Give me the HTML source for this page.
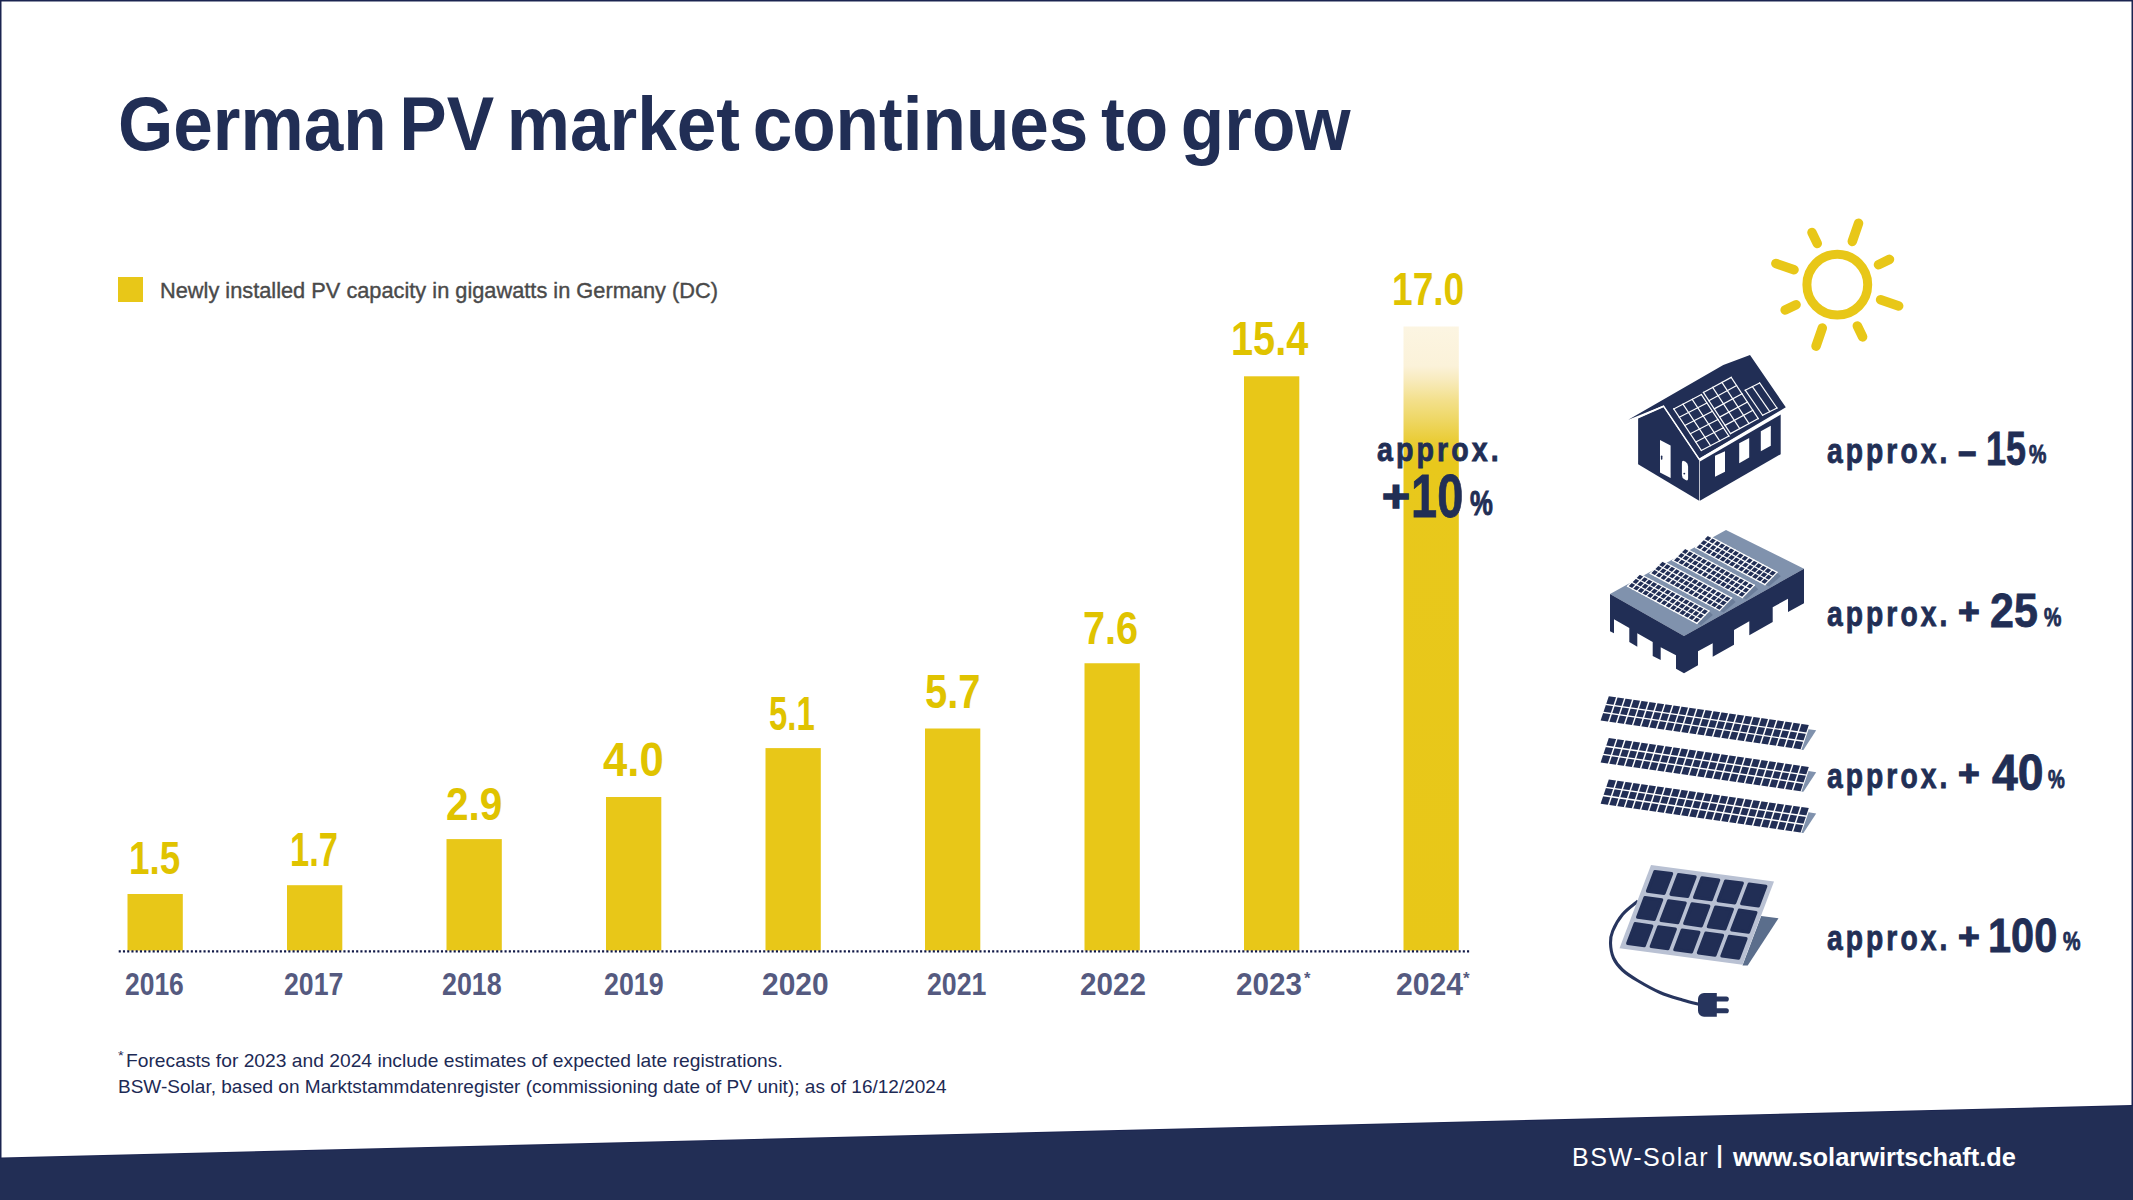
<!DOCTYPE html>
<html><head><meta charset="utf-8"><title>German PV market continues to grow</title>
<style>
html,body{margin:0;padding:0}
body{width:2133px;height:1200px;overflow:hidden;position:relative;background:#1b2450;font-family:"Liberation Sans",Arial,sans-serif}
.t{position:absolute;white-space:nowrap;transform-origin:0 0}
sup{font-size:45%;vertical-align:0;position:relative;top:-0.95em;margin-left:1px}
</style></head><body>
<svg width="2133" height="1200" viewBox="0 0 2133 1200" style="position:absolute;left:0;top:0"><polygon points="1.5,1.5 2131.5,1.5 2131.5,1105 1.5,1157.4" fill="#fff"/><polygon points="0,1158.4 2133,1105.9 2133,1200 0,1200" fill="#222e55"/><rect x="118" y="277" width="25" height="25" fill="#e8c718"/><rect x="127.50" y="894" width="55.3" height="56.50" fill="#e8c718"/><rect x="287.00" y="885.2" width="55.3" height="65.30" fill="#e8c718"/><rect x="446.50" y="839.1" width="55.3" height="111.40" fill="#e8c718"/><rect x="606.00" y="797" width="55.3" height="153.50" fill="#e8c718"/><rect x="765.50" y="748.1" width="55.3" height="202.40" fill="#e8c718"/><rect x="925.00" y="728.5" width="55.3" height="222.00" fill="#e8c718"/><rect x="1084.50" y="663.25" width="55.3" height="287.25" fill="#e8c718"/><rect x="1244.00" y="376.3" width="55.3" height="574.20" fill="#e8c718"/><defs><linearGradient id="g24" x1="0" y1="0" x2="0" y2="1"><stop offset="0.0000" stop-color="#fcf5e2"/><stop offset="0.0633" stop-color="#fbf2d9"/><stop offset="0.0857" stop-color="#f8ebbd"/><stop offset="0.1178" stop-color="#f3e08c"/><stop offset="0.1498" stop-color="#eed764"/><stop offset="0.1819" stop-color="#eacd38"/><stop offset="0.2171" stop-color="#e8c81c"/><stop offset="1.0000" stop-color="#e8c718"/></linearGradient></defs><rect x="1403.50" y="326.5" width="55.3" height="624.00" fill="url(#g24)"/><line x1="118.7" y1="951.35" x2="1470" y2="951.35" stroke="#101846" stroke-width="2.3" stroke-dasharray="2.1 2.14"/><g stroke="#e8c718" stroke-width="9.5" stroke-linecap="round"><circle cx="1837.3" cy="284.7" r="30.4" fill="none" stroke="#e8c718" stroke-width="9"/><line x1="1880.58" y1="299.69" x2="1898.72" y2="305.97"/><line x1="1857.31" y1="325.90" x2="1862.63" y2="336.87"/><line x1="1822.31" y1="327.98" x2="1816.03" y2="346.12"/><line x1="1796.10" y1="304.71" x2="1785.13" y2="310.03"/><line x1="1794.02" y1="269.71" x2="1775.88" y2="263.43"/><line x1="1817.29" y1="243.50" x2="1811.97" y2="232.53"/><line x1="1852.29" y1="241.42" x2="1858.57" y2="223.28"/><line x1="1878.50" y1="264.69" x2="1889.47" y2="259.37"/></g><polygon points="1628.3,419.8 1723.3,365.0 1750.0,355.0 1785.8,407.3 1699.2,458.6 1663.5,405.5" fill="#212e55"/><polygon points="1638.1,418.6 1663.5,407.2 1699.2,460.4 1699.2,500.8 1638.1,464.2" fill="#212e55"/><polygon points="1699.9,461.6 1780.7,414.6 1780.7,454.2 1699.9,500.8" fill="#212e55"/><polyline points="1637.6,417.6 1663.6,406.1 1699.4,459.4 1786.3,409.2" fill="none" stroke="#fff" stroke-width="1.25" stroke-linejoin="miter"/><g stroke="#fff" stroke-width="1.15" stroke-linecap="square"><line x1="1673.75" y1="408.90" x2="1701.30" y2="450.40"/><line x1="1682.97" y1="404.13" x2="1710.52" y2="445.63"/><line x1="1692.18" y1="399.37" x2="1719.73" y2="440.87"/><line x1="1701.40" y1="394.60" x2="1728.95" y2="436.10"/><line x1="1673.75" y1="408.90" x2="1701.40" y2="394.60"/><line x1="1679.26" y1="417.20" x2="1706.91" y2="402.90"/><line x1="1684.77" y1="425.50" x2="1712.42" y2="411.20"/><line x1="1690.28" y1="433.80" x2="1717.93" y2="419.50"/><line x1="1695.79" y1="442.10" x2="1723.44" y2="427.80"/><line x1="1701.30" y1="450.40" x2="1728.95" y2="436.10"/></g><g stroke="#fff" stroke-width="1.15" stroke-linecap="square"><line x1="1703.40" y1="392.40" x2="1730.50" y2="433.60"/><line x1="1712.67" y1="387.40" x2="1739.77" y2="428.60"/><line x1="1721.93" y1="382.40" x2="1749.03" y2="423.60"/><line x1="1731.20" y1="377.40" x2="1758.30" y2="418.60"/><line x1="1703.40" y1="392.40" x2="1731.20" y2="377.40"/><line x1="1708.82" y1="400.64" x2="1736.62" y2="385.64"/><line x1="1714.24" y1="408.88" x2="1742.04" y2="393.88"/><line x1="1719.66" y1="417.12" x2="1747.46" y2="402.12"/><line x1="1725.08" y1="425.36" x2="1752.88" y2="410.36"/><line x1="1730.50" y1="433.60" x2="1758.30" y2="418.60"/></g><g stroke="#fff" stroke-width="1.15" stroke-linecap="square"><line x1="1745.20" y1="390.20" x2="1762.60" y2="415.30"/><line x1="1752.40" y1="386.55" x2="1769.80" y2="411.65"/><line x1="1759.60" y1="382.90" x2="1777.00" y2="408.00"/><line x1="1745.20" y1="390.20" x2="1759.60" y2="382.90"/><line x1="1762.60" y1="415.30" x2="1777.00" y2="408.00"/></g><polygon points="1715.0,455.8 1725.0,451.3 1725.0,471.7 1715.0,476.7" fill="#fff"/><polygon points="1739.2,443.3 1749.2,438.0 1749.2,457.5 1739.2,463.3" fill="#fff"/><polygon points="1760.8,431.3 1770.8,425.8 1770.8,445.8 1760.8,451.3" fill="#fff"/><polygon points="1660.0,440.0 1670.6,445.6 1670.6,478.1 1660.0,472.5" fill="#fff"/><path d="M1681.9,463 Q1681.9,459.8 1684.5,461.2 L1685.6,461.8 Q1688.1,463.2 1688.1,466.5 L1688.1,478.4 Q1688.1,481.3 1685.6,480 L1684.4,479.3 Q1681.9,477.9 1681.9,475 Z" fill="#fff"/><rect x="1660.9" y="455.6" width="1.5" height="4.2" rx="0.7" fill="#212e55"/><circle cx="1684.3" cy="473.6" r="0.95" fill="#212e55"/><polygon points="1726.0,530.0 1804.0,568.7 1684.0,636.0 1610.0,594.0" fill="#8092ad"/><polygon points="1610.0,594.0 1684.0,636.0 1684.0,673.3 1676.0,668.7 1676.0,655.3 1660.7,647.3 1660.7,660.0 1652.7,656.0 1652.7,642.0 1637.3,633.3 1637.3,646.7 1629.3,642.0 1629.3,628.0 1614.0,619.3 1614.0,633.3 1610.0,631.3" fill="#212e55"/><polygon points="1684.0,636.0 1804.0,568.7 1804.0,603.3 1788.0,612.0 1788.0,598.7 1772.7,607.3 1772.7,622.0 1749.3,635.3 1749.3,621.3 1734.0,630.0 1734.0,644.7 1712.7,656.7 1712.7,643.3 1698.0,651.3 1698.0,665.3 1684.0,673.3" fill="#212e55"/><polygon points="1708.9,611.0 1712.9,615.0 1700.9,625.3 1696.9,623.3" fill="#6b7d9a"/><polygon points="1639.6,574.0 1708.9,611.0 1696.9,623.3 1627.6,586.3" fill="#212e55"/><g stroke="#fff" stroke-width="1.25" stroke-linecap="square"><line x1="1639.60" y1="574.00" x2="1627.60" y2="586.30"/><line x1="1644.22" y1="576.47" x2="1632.22" y2="588.77"/><line x1="1648.84" y1="578.93" x2="1636.84" y2="591.23"/><line x1="1653.46" y1="581.40" x2="1641.46" y2="593.70"/><line x1="1658.08" y1="583.87" x2="1646.08" y2="596.17"/><line x1="1662.70" y1="586.33" x2="1650.70" y2="598.63"/><line x1="1667.32" y1="588.80" x2="1655.32" y2="601.10"/><line x1="1671.94" y1="591.27" x2="1659.94" y2="603.57"/><line x1="1676.56" y1="593.73" x2="1664.56" y2="606.03"/><line x1="1681.18" y1="596.20" x2="1669.18" y2="608.50"/><line x1="1685.80" y1="598.67" x2="1673.80" y2="610.97"/><line x1="1690.42" y1="601.13" x2="1678.42" y2="613.43"/><line x1="1695.04" y1="603.60" x2="1683.04" y2="615.90"/><line x1="1699.66" y1="606.07" x2="1687.66" y2="618.37"/><line x1="1704.28" y1="608.53" x2="1692.28" y2="620.83"/><line x1="1708.90" y1="611.00" x2="1696.90" y2="623.30"/><line x1="1639.60" y1="574.00" x2="1708.90" y2="611.00"/><line x1="1635.60" y1="578.10" x2="1704.90" y2="615.10"/><line x1="1631.60" y1="582.20" x2="1700.90" y2="619.20"/><line x1="1627.60" y1="586.30" x2="1696.90" y2="623.30"/></g><polygon points="1731.6,598.1 1735.6,602.1 1723.6,612.4 1719.6,610.4" fill="#6b7d9a"/><polygon points="1662.3,561.1 1731.6,598.1 1719.6,610.4 1650.3,573.4" fill="#212e55"/><g stroke="#fff" stroke-width="1.25" stroke-linecap="square"><line x1="1662.27" y1="561.10" x2="1650.27" y2="573.40"/><line x1="1666.89" y1="563.57" x2="1654.89" y2="575.87"/><line x1="1671.51" y1="566.03" x2="1659.51" y2="578.33"/><line x1="1676.13" y1="568.50" x2="1664.13" y2="580.80"/><line x1="1680.75" y1="570.97" x2="1668.75" y2="583.27"/><line x1="1685.37" y1="573.43" x2="1673.37" y2="585.73"/><line x1="1689.99" y1="575.90" x2="1677.99" y2="588.20"/><line x1="1694.61" y1="578.37" x2="1682.61" y2="590.67"/><line x1="1699.23" y1="580.83" x2="1687.23" y2="593.13"/><line x1="1703.85" y1="583.30" x2="1691.85" y2="595.60"/><line x1="1708.47" y1="585.77" x2="1696.47" y2="598.07"/><line x1="1713.09" y1="588.23" x2="1701.09" y2="600.53"/><line x1="1717.71" y1="590.70" x2="1705.71" y2="603.00"/><line x1="1722.33" y1="593.17" x2="1710.33" y2="605.47"/><line x1="1726.95" y1="595.63" x2="1714.95" y2="607.93"/><line x1="1731.57" y1="598.10" x2="1719.57" y2="610.40"/><line x1="1662.27" y1="561.10" x2="1731.57" y2="598.10"/><line x1="1658.27" y1="565.20" x2="1727.57" y2="602.20"/><line x1="1654.27" y1="569.30" x2="1723.57" y2="606.30"/><line x1="1650.27" y1="573.40" x2="1719.57" y2="610.40"/></g><polygon points="1754.2,585.2 1758.2,589.2 1746.2,599.5 1742.2,597.5" fill="#6b7d9a"/><polygon points="1684.9,548.2 1754.2,585.2 1742.2,597.5 1672.9,560.5" fill="#212e55"/><g stroke="#fff" stroke-width="1.25" stroke-linecap="square"><line x1="1684.94" y1="548.20" x2="1672.94" y2="560.50"/><line x1="1689.56" y1="550.67" x2="1677.56" y2="562.97"/><line x1="1694.18" y1="553.13" x2="1682.18" y2="565.43"/><line x1="1698.80" y1="555.60" x2="1686.80" y2="567.90"/><line x1="1703.42" y1="558.07" x2="1691.42" y2="570.37"/><line x1="1708.04" y1="560.53" x2="1696.04" y2="572.83"/><line x1="1712.66" y1="563.00" x2="1700.66" y2="575.30"/><line x1="1717.28" y1="565.47" x2="1705.28" y2="577.77"/><line x1="1721.90" y1="567.93" x2="1709.90" y2="580.23"/><line x1="1726.52" y1="570.40" x2="1714.52" y2="582.70"/><line x1="1731.14" y1="572.87" x2="1719.14" y2="585.17"/><line x1="1735.76" y1="575.33" x2="1723.76" y2="587.63"/><line x1="1740.38" y1="577.80" x2="1728.38" y2="590.10"/><line x1="1745.00" y1="580.27" x2="1733.00" y2="592.57"/><line x1="1749.62" y1="582.73" x2="1737.62" y2="595.03"/><line x1="1754.24" y1="585.20" x2="1742.24" y2="597.50"/><line x1="1684.94" y1="548.20" x2="1754.24" y2="585.20"/><line x1="1680.94" y1="552.30" x2="1750.24" y2="589.30"/><line x1="1676.94" y1="556.40" x2="1746.24" y2="593.40"/><line x1="1672.94" y1="560.50" x2="1742.24" y2="597.50"/></g><polygon points="1776.9,572.3 1780.9,576.3 1768.9,586.6 1764.9,584.6" fill="#6b7d9a"/><polygon points="1707.6,535.3 1776.9,572.3 1764.9,584.6 1695.6,547.6" fill="#212e55"/><g stroke="#fff" stroke-width="1.25" stroke-linecap="square"><line x1="1707.61" y1="535.30" x2="1695.61" y2="547.60"/><line x1="1712.23" y1="537.77" x2="1700.23" y2="550.07"/><line x1="1716.85" y1="540.23" x2="1704.85" y2="552.53"/><line x1="1721.47" y1="542.70" x2="1709.47" y2="555.00"/><line x1="1726.09" y1="545.17" x2="1714.09" y2="557.47"/><line x1="1730.71" y1="547.63" x2="1718.71" y2="559.93"/><line x1="1735.33" y1="550.10" x2="1723.33" y2="562.40"/><line x1="1739.95" y1="552.57" x2="1727.95" y2="564.87"/><line x1="1744.57" y1="555.03" x2="1732.57" y2="567.33"/><line x1="1749.19" y1="557.50" x2="1737.19" y2="569.80"/><line x1="1753.81" y1="559.97" x2="1741.81" y2="572.27"/><line x1="1758.43" y1="562.43" x2="1746.43" y2="574.73"/><line x1="1763.05" y1="564.90" x2="1751.05" y2="577.20"/><line x1="1767.67" y1="567.37" x2="1755.67" y2="579.67"/><line x1="1772.29" y1="569.83" x2="1760.29" y2="582.13"/><line x1="1776.91" y1="572.30" x2="1764.91" y2="584.60"/><line x1="1707.61" y1="535.30" x2="1776.91" y2="572.30"/><line x1="1703.61" y1="539.40" x2="1772.91" y2="576.40"/><line x1="1699.61" y1="543.50" x2="1768.91" y2="580.50"/><line x1="1695.61" y1="547.60" x2="1764.91" y2="584.60"/></g><polygon points="1808.6,729.2 1816.2,730.3 1803.4,749.9 1801.4,749.9" fill="#8092ad"/><polygon points="1608.8,696.2 1808.8,725.0 1800.6,749.3 1600.6,720.6" fill="#212e55"/><g stroke="#fff" stroke-width="1.45" stroke-linecap="square"><line x1="1616.75" y1="697.40" x2="1608.60" y2="721.75"/><line x1="1624.75" y1="698.55" x2="1616.60" y2="722.90"/><line x1="1632.75" y1="699.70" x2="1624.60" y2="724.05"/><line x1="1640.75" y1="700.85" x2="1632.60" y2="725.20"/><line x1="1648.75" y1="702.00" x2="1640.60" y2="726.35"/><line x1="1656.75" y1="703.15" x2="1648.60" y2="727.50"/><line x1="1664.75" y1="704.30" x2="1656.60" y2="728.65"/><line x1="1672.75" y1="705.45" x2="1664.60" y2="729.80"/><line x1="1680.75" y1="706.60" x2="1672.60" y2="730.95"/><line x1="1688.75" y1="707.75" x2="1680.60" y2="732.10"/><line x1="1696.75" y1="708.90" x2="1688.60" y2="733.25"/><line x1="1704.75" y1="710.05" x2="1696.60" y2="734.40"/><line x1="1712.75" y1="711.20" x2="1704.60" y2="735.55"/><line x1="1720.75" y1="712.35" x2="1712.60" y2="736.70"/><line x1="1728.75" y1="713.50" x2="1720.60" y2="737.85"/><line x1="1736.75" y1="714.65" x2="1728.60" y2="739.00"/><line x1="1744.75" y1="715.80" x2="1736.60" y2="740.15"/><line x1="1752.75" y1="716.95" x2="1744.60" y2="741.30"/><line x1="1760.75" y1="718.10" x2="1752.60" y2="742.45"/><line x1="1768.75" y1="719.25" x2="1760.60" y2="743.60"/><line x1="1776.75" y1="720.40" x2="1768.60" y2="744.75"/><line x1="1784.75" y1="721.55" x2="1776.60" y2="745.90"/><line x1="1792.75" y1="722.70" x2="1784.60" y2="747.05"/><line x1="1800.75" y1="723.85" x2="1792.60" y2="748.20"/><line x1="1606.03" y1="704.37" x2="1806.03" y2="733.12"/><line x1="1603.32" y1="712.48" x2="1803.32" y2="741.23"/></g><polygon points="1808.6,771.1 1816.2,772.2 1803.4,791.8 1801.4,791.8" fill="#8092ad"/><polygon points="1608.8,738.1 1808.8,766.9 1800.6,791.3 1600.6,762.5" fill="#212e55"/><g stroke="#fff" stroke-width="1.45" stroke-linecap="square"><line x1="1616.75" y1="739.30" x2="1608.60" y2="763.65"/><line x1="1624.75" y1="740.45" x2="1616.60" y2="764.80"/><line x1="1632.75" y1="741.60" x2="1624.60" y2="765.95"/><line x1="1640.75" y1="742.75" x2="1632.60" y2="767.10"/><line x1="1648.75" y1="743.90" x2="1640.60" y2="768.25"/><line x1="1656.75" y1="745.05" x2="1648.60" y2="769.40"/><line x1="1664.75" y1="746.20" x2="1656.60" y2="770.55"/><line x1="1672.75" y1="747.35" x2="1664.60" y2="771.70"/><line x1="1680.75" y1="748.50" x2="1672.60" y2="772.85"/><line x1="1688.75" y1="749.65" x2="1680.60" y2="774.00"/><line x1="1696.75" y1="750.80" x2="1688.60" y2="775.15"/><line x1="1704.75" y1="751.95" x2="1696.60" y2="776.30"/><line x1="1712.75" y1="753.10" x2="1704.60" y2="777.45"/><line x1="1720.75" y1="754.25" x2="1712.60" y2="778.60"/><line x1="1728.75" y1="755.40" x2="1720.60" y2="779.75"/><line x1="1736.75" y1="756.55" x2="1728.60" y2="780.90"/><line x1="1744.75" y1="757.70" x2="1736.60" y2="782.05"/><line x1="1752.75" y1="758.85" x2="1744.60" y2="783.20"/><line x1="1760.75" y1="760.00" x2="1752.60" y2="784.35"/><line x1="1768.75" y1="761.15" x2="1760.60" y2="785.50"/><line x1="1776.75" y1="762.30" x2="1768.60" y2="786.65"/><line x1="1784.75" y1="763.45" x2="1776.60" y2="787.80"/><line x1="1792.75" y1="764.60" x2="1784.60" y2="788.95"/><line x1="1800.75" y1="765.75" x2="1792.60" y2="790.10"/><line x1="1606.03" y1="746.27" x2="1806.03" y2="775.02"/><line x1="1603.32" y1="754.38" x2="1803.32" y2="783.13"/></g><polygon points="1808.6,812.3 1816.2,813.4 1803.4,833.0 1801.4,833.0" fill="#8092ad"/><polygon points="1608.8,779.4 1808.8,808.1 1800.6,832.5 1600.6,803.7" fill="#212e55"/><g stroke="#fff" stroke-width="1.45" stroke-linecap="square"><line x1="1616.75" y1="780.50" x2="1608.60" y2="804.85"/><line x1="1624.75" y1="781.65" x2="1616.60" y2="806.00"/><line x1="1632.75" y1="782.80" x2="1624.60" y2="807.15"/><line x1="1640.75" y1="783.95" x2="1632.60" y2="808.30"/><line x1="1648.75" y1="785.10" x2="1640.60" y2="809.45"/><line x1="1656.75" y1="786.25" x2="1648.60" y2="810.60"/><line x1="1664.75" y1="787.40" x2="1656.60" y2="811.75"/><line x1="1672.75" y1="788.55" x2="1664.60" y2="812.90"/><line x1="1680.75" y1="789.70" x2="1672.60" y2="814.05"/><line x1="1688.75" y1="790.85" x2="1680.60" y2="815.20"/><line x1="1696.75" y1="792.00" x2="1688.60" y2="816.35"/><line x1="1704.75" y1="793.15" x2="1696.60" y2="817.50"/><line x1="1712.75" y1="794.30" x2="1704.60" y2="818.65"/><line x1="1720.75" y1="795.45" x2="1712.60" y2="819.80"/><line x1="1728.75" y1="796.60" x2="1720.60" y2="820.95"/><line x1="1736.75" y1="797.75" x2="1728.60" y2="822.10"/><line x1="1744.75" y1="798.90" x2="1736.60" y2="823.25"/><line x1="1752.75" y1="800.05" x2="1744.60" y2="824.40"/><line x1="1760.75" y1="801.20" x2="1752.60" y2="825.55"/><line x1="1768.75" y1="802.35" x2="1760.60" y2="826.70"/><line x1="1776.75" y1="803.50" x2="1768.60" y2="827.85"/><line x1="1784.75" y1="804.65" x2="1776.60" y2="829.00"/><line x1="1792.75" y1="805.80" x2="1784.60" y2="830.15"/><line x1="1800.75" y1="806.95" x2="1792.60" y2="831.30"/><line x1="1606.03" y1="787.47" x2="1806.03" y2="816.22"/><line x1="1603.32" y1="795.58" x2="1803.32" y2="824.33"/></g><polygon points="1761.2,916.0 1778.5,918.2 1747.7,965.5 1742.5,965.5" fill="#5b6e8c"/><path d="M1638.00,901.00 C1635.42,903.25 1626.72,909.50 1622.50,914.50 C1618.28,919.50 1614.70,926.25 1612.70,931.00 C1610.70,935.75 1610.37,938.50 1610.50,943.00 C1610.63,947.50 1611.50,953.50 1613.50,958.00 C1615.50,962.50 1618.50,966.25 1622.50,970.00 C1626.50,973.75 1631.25,976.75 1637.50,980.50 C1643.75,984.25 1652.50,989.25 1660.00,992.50 C1667.50,995.75 1675.83,998.00 1682.50,1000.00 C1689.17,1002.00 1697.08,1003.75 1700.00,1004.50" fill="none" stroke="#27355e" stroke-width="3.1"/><path d="M1704,993 h12.8 v23.7 h-12.8 a6,6 0 0 1 -6,-6 v-11.7 a6,6 0 0 1 6,-6 z" fill="#27355e"/><path d="M1716,999 h10.3 M1716,1010.8 h10.3" stroke="#27355e" stroke-width="5.1" stroke-linecap="round"/><polygon points="1651.0,865.0 1774.0,881.5 1742.5,964.7 1619.5,948.2" fill="#b9c1d3"/><polygon points="1654.9,871.5 1671.6,873.7 1664.1,893.3 1647.5,891.1" fill="#212e55" stroke="#212e55" stroke-width="3.2" stroke-linejoin="round"/><polygon points="1678.5,874.6 1695.1,876.9 1687.7,896.5 1671.0,894.3" fill="#212e55" stroke="#212e55" stroke-width="3.2" stroke-linejoin="round"/><polygon points="1702.0,877.8 1718.7,880.0 1711.3,899.7 1694.6,897.4" fill="#212e55" stroke="#212e55" stroke-width="3.2" stroke-linejoin="round"/><polygon points="1725.6,881.0 1742.3,883.2 1734.8,902.8 1718.2,900.6" fill="#212e55" stroke="#212e55" stroke-width="3.2" stroke-linejoin="round"/><polygon points="1749.2,884.1 1765.8,886.3 1758.4,906.0 1741.7,903.7" fill="#212e55" stroke="#212e55" stroke-width="3.2" stroke-linejoin="round"/><polygon points="1645.0,897.6 1661.7,899.8 1654.2,919.5 1637.6,917.2" fill="#212e55" stroke="#212e55" stroke-width="3.2" stroke-linejoin="round"/><polygon points="1668.6,900.8 1685.2,903.0 1677.8,922.6 1661.1,920.4" fill="#212e55" stroke="#212e55" stroke-width="3.2" stroke-linejoin="round"/><polygon points="1692.1,903.9 1708.8,906.2 1701.4,925.8 1684.7,923.5" fill="#212e55" stroke="#212e55" stroke-width="3.2" stroke-linejoin="round"/><polygon points="1715.7,907.1 1732.4,909.3 1724.9,928.9 1708.3,926.7" fill="#212e55" stroke="#212e55" stroke-width="3.2" stroke-linejoin="round"/><polygon points="1739.3,910.2 1755.9,912.5 1748.5,932.1 1731.8,929.9" fill="#212e55" stroke="#212e55" stroke-width="3.2" stroke-linejoin="round"/><polygon points="1635.1,923.7 1651.8,926.0 1644.3,945.6 1627.7,943.4" fill="#212e55" stroke="#212e55" stroke-width="3.2" stroke-linejoin="round"/><polygon points="1658.7,926.9 1675.3,929.1 1667.9,948.7 1651.2,946.5" fill="#212e55" stroke="#212e55" stroke-width="3.2" stroke-linejoin="round"/><polygon points="1682.2,930.0 1698.9,932.3 1691.5,951.9 1674.8,949.7" fill="#212e55" stroke="#212e55" stroke-width="3.2" stroke-linejoin="round"/><polygon points="1705.8,933.2 1722.5,935.4 1715.0,955.1 1698.4,952.8" fill="#212e55" stroke="#212e55" stroke-width="3.2" stroke-linejoin="round"/><polygon points="1729.4,936.4 1746.0,938.6 1738.6,958.2 1721.9,956.0" fill="#212e55" stroke="#212e55" stroke-width="3.2" stroke-linejoin="round"/></svg>
<div class="t" style="left:117.51px;top:86.02px;font-size:80px;line-height:80px;color:#212e55;font-weight:bold;transform:scale(0.8887,0.9535);word-spacing:-8px">German PV market continues to grow</div><div class="t" style="left:159.54px;top:279.80px;font-size:22.3px;line-height:22.3px;color:#4a4a4a;font-weight:normal;transform:scale(0.9766,0.9785);-webkit-text-stroke:0.4px #4a4a4a">Newly installed PV capacity in gigawatts in Germany (DC)</div><div class="t" style="left:129.09px;top:833.64px;font-size:46px;line-height:46px;color:#e0c300;font-weight:bold;transform:scale(0.8017,1.0155);">1.5</div><div class="t" style="left:290.25px;top:825.52px;font-size:46px;line-height:46px;color:#e0c300;font-weight:bold;transform:scale(0.7500,1.0315);">1.7</div><div class="t" style="left:445.98px;top:779.96px;font-size:46px;line-height:46px;color:#e0c300;font-weight:bold;transform:scale(0.8823,1.0137);">2.9</div><div class="t" style="left:602.99px;top:736.49px;font-size:46px;line-height:46px;color:#e0c300;font-weight:bold;transform:scale(0.9486,1.0382);">4.0</div><div class="t" style="left:769.13px;top:688.55px;font-size:46px;line-height:46px;color:#e0c300;font-weight:bold;transform:scale(0.7151,1.0419);">5.1</div><div class="t" style="left:924.60px;top:668.41px;font-size:46px;line-height:46px;color:#e0c300;font-weight:bold;transform:scale(0.8678,1.0326);">5.7</div><div class="t" style="left:1083.18px;top:604.20px;font-size:46px;line-height:46px;color:#e0c300;font-weight:bold;transform:scale(0.8614,1.0229);">7.6</div><div class="t" style="left:1230.81px;top:315.31px;font-size:46px;line-height:46px;color:#e0c300;font-weight:bold;transform:scale(0.8626,1.0326);">15.4</div><div class="t" style="left:1391.98px;top:264.72px;font-size:46px;line-height:46px;color:#e0c300;font-weight:bold;transform:scale(0.8071,1.0198);">17.0</div><div class="t" style="left:125.23px;top:969.10px;font-size:30.4px;line-height:30.4px;color:#555a80;font-weight:bold;transform:scale(0.8702,1.0140);">2016</div><div class="t" style="left:284.12px;top:969.10px;font-size:30.4px;line-height:30.4px;color:#555a80;font-weight:bold;transform:scale(0.8766,1.0140);">2017</div><div class="t" style="left:441.72px;top:969.10px;font-size:30.4px;line-height:30.4px;color:#555a80;font-weight:bold;transform:scale(0.8837,1.0140);">2018</div><div class="t" style="left:603.92px;top:969.10px;font-size:30.4px;line-height:30.4px;color:#555a80;font-weight:bold;transform:scale(0.8809,1.0140);">2019</div><div class="t" style="left:762.12px;top:969.10px;font-size:30.4px;line-height:30.4px;color:#555a80;font-weight:bold;transform:scale(0.9839,1.0140);">2020</div><div class="t" style="left:926.72px;top:969.10px;font-size:30.4px;line-height:30.4px;color:#555a80;font-weight:bold;transform:scale(0.8791,1.0140);">2021</div><div class="t" style="left:1080.02px;top:969.10px;font-size:30.4px;line-height:30.4px;color:#555a80;font-weight:bold;transform:scale(0.9756,1.0140);">2022</div><div class="t" style="left:1236.12px;top:969.10px;font-size:30.4px;line-height:30.4px;color:#555a80;font-weight:bold;transform:scale(0.9756,1.0140);">2023</div><div class="t" style="left:1395.71px;top:969.10px;font-size:30.4px;line-height:30.4px;color:#555a80;font-weight:bold;transform:scale(0.9910,1.0140);">2024</div><div class="t" style="left:1303.81px;top:969.93px;font-size:22px;line-height:22px;color:#555a80;font-weight:bold;transform:scale(0.7515,0.7515);">*</div><div class="t" style="left:1463.01px;top:969.93px;font-size:22px;line-height:22px;color:#555a80;font-weight:bold;transform:scale(0.7758,0.7515);">*</div><div class="t" style="left:1376.92px;top:433.08px;font-size:37px;line-height:37px;color:#212e55;font-weight:bold;transform:scale(0.7722,0.8974);letter-spacing:4px;-webkit-text-stroke:0.9px #212e55">approx.</div><div class="t" style="left:1382.45px;top:475.09px;font-size:46px;line-height:46px;color:#212e55;font-weight:bold;transform:scale(1.0388,0.9520);-webkit-text-stroke:1.6px #212e55">+</div><div class="t" style="left:1410.60px;top:466.25px;font-size:61px;line-height:61px;color:#212e55;font-weight:bold;transform:scale(0.7703,0.9932);-webkit-text-stroke:0.8px #212e55">10</div><div class="t" style="left:1470.04px;top:485.58px;font-size:36px;line-height:36px;color:#212e55;font-weight:bold;transform:scale(0.7129,0.9829);-webkit-text-stroke:1.0px #212e55">%</div><div class="t" style="left:1827.33px;top:433.58px;font-size:37px;line-height:37px;color:#212e55;font-weight:bold;transform:scale(0.7632,0.9357);letter-spacing:4px;-webkit-text-stroke:0.9px #212e55">approx.</div><div class="t" style="left:1827.33px;top:596.58px;font-size:37px;line-height:37px;color:#212e55;font-weight:bold;transform:scale(0.7632,0.9357);letter-spacing:4px;-webkit-text-stroke:0.9px #212e55">approx.</div><div class="t" style="left:1827.33px;top:758.61px;font-size:37px;line-height:37px;color:#212e55;font-weight:bold;transform:scale(0.7632,0.9322);letter-spacing:4px;-webkit-text-stroke:0.9px #212e55">approx.</div><div class="t" style="left:1827.33px;top:920.61px;font-size:37px;line-height:37px;color:#212e55;font-weight:bold;transform:scale(0.7632,0.9322);letter-spacing:4px;-webkit-text-stroke:0.9px #212e55">approx.</div><div class="t" style="left:1958.38px;top:430.06px;font-size:40px;line-height:40px;color:#212e55;font-weight:bold;transform:scale(0.8289,1.0400);-webkit-text-stroke:0.9px #212e55">–</div><div class="t" style="left:1985.53px;top:424.77px;font-size:48px;line-height:48px;color:#212e55;font-weight:bold;transform:scale(0.7480,0.9971);-webkit-text-stroke:0.8px #212e55">15</div><div class="t" style="left:2029.22px;top:440.69px;font-size:27px;line-height:27px;color:#212e55;font-weight:bold;transform:scale(0.7234,0.9850);-webkit-text-stroke:0.9px #212e55">%</div><div class="t" style="left:1958.17px;top:593.31px;font-size:40px;line-height:40px;color:#212e55;font-weight:bold;transform:scale(0.9302,0.9011);-webkit-text-stroke:1.3px #212e55">+</div><div class="t" style="left:1990.18px;top:586.99px;font-size:48px;line-height:48px;color:#212e55;font-weight:bold;transform:scale(0.8956,1.0014);-webkit-text-stroke:0.8px #212e55">25</div><div class="t" style="left:2044.32px;top:603.69px;font-size:27px;line-height:27px;color:#212e55;font-weight:bold;transform:scale(0.7234,0.9850);-webkit-text-stroke:0.9px #212e55">%</div><div class="t" style="left:1958.17px;top:755.03px;font-size:40px;line-height:40px;color:#212e55;font-weight:bold;transform:scale(0.9302,0.9103);-webkit-text-stroke:1.3px #212e55">+</div><div class="t" style="left:1991.76px;top:748.79px;font-size:48px;line-height:48px;color:#212e55;font-weight:bold;transform:scale(0.9670,1.0216);-webkit-text-stroke:0.8px #212e55">40</div><div class="t" style="left:2048.23px;top:765.70px;font-size:27px;line-height:27px;color:#212e55;font-weight:bold;transform:scale(0.6979,0.9800);-webkit-text-stroke:0.9px #212e55">%</div><div class="t" style="left:1958.17px;top:917.51px;font-size:40px;line-height:40px;color:#212e55;font-weight:bold;transform:scale(0.9302,0.9011);-webkit-text-stroke:1.3px #212e55">+</div><div class="t" style="left:1988.44px;top:912.25px;font-size:48px;line-height:48px;color:#212e55;font-weight:bold;transform:scale(0.8645,1.0000);-webkit-text-stroke:0.8px #212e55">100</div><div class="t" style="left:2063.32px;top:927.70px;font-size:27px;line-height:27px;color:#212e55;font-weight:bold;transform:scale(0.7277,0.9800);-webkit-text-stroke:0.9px #212e55">%</div><div class="t" style="left:117.64px;top:1048.79px;font-size:14px;line-height:14px;color:#1d2a55;font-weight:normal;transform:scale(1.0400,0.8842);">*</div><div class="t" style="left:125.98px;top:1050.62px;font-size:19px;line-height:19px;color:#1d2a55;font-weight:normal;transform:scale(1.0128,1.0000);">Forecasts for 2023 and 2024 include estimates of expected late registrations.</div><div class="t" style="left:118.10px;top:1077.12px;font-size:19px;line-height:19px;color:#1d2a55;font-weight:normal;transform:scale(1.0011,1.0000);">BSW-Solar, based on Marktstammdatenregister (commissioning date of PV unit); as of 16/12/2024</div><div class="t" style="left:1572.39px;top:1144.17px;font-size:25px;line-height:25px;color:#ffffff;font-weight:normal;transform:scale(1.0026,1.0384);letter-spacing:1.5px">BSW-Solar</div><div class="t" style="left:1715.15px;top:1141.92px;font-size:25px;line-height:25px;color:#ffffff;font-weight:normal;transform:scale(1.4000,0.9892);">|</div><div class="t" style="left:1732.80px;top:1144.17px;font-size:25px;line-height:25px;color:#ffffff;font-weight:bold;transform:scale(1.0166,1.0384);">www.solarwirtschaft.de</div>
</body></html>
